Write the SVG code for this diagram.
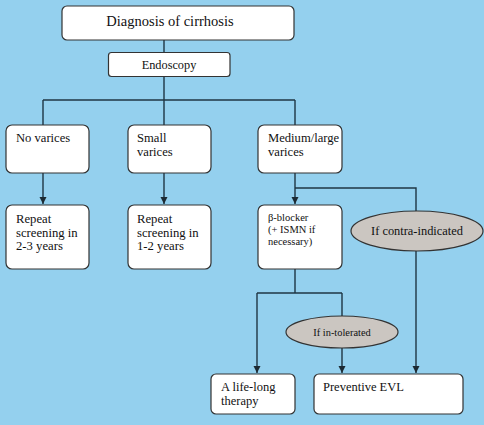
<svg xmlns="http://www.w3.org/2000/svg" width="484" height="425" viewBox="0 0 484 425">
<defs>
<marker id="arr" markerWidth="8" markerHeight="8" refX="7" refY="4" orient="auto" markerUnits="userSpaceOnUse">
<path d="M0,0.5 L7,4 L0,7.5 Z" fill="#1c2a33"/>
</marker>
<style>
.box{fill:#ffffff;stroke:#333333;stroke-width:1.2}
.ell{fill:#cbc6c1;stroke:#333333;stroke-width:1.2}
.ln{fill:none;stroke:#1f3644;stroke-width:1.4}
text{font-family:'Liberation Serif','DejaVu Serif',serif;fill:#111111}
</style>
</defs>
<rect width="484" height="425" fill="#94d0ee"/>
<g id="connectors">
<path class="ln" d="M164,40 V52"/>
<path class="ln" d="M164,76 V100 M43,100 H295 M43,100 V125 M164,100 V125 M295,100 V125"/>
<path class="ln" d="M43,173 V204" marker-end="url(#arr)"/>
<path class="ln" d="M164,173 V204" marker-end="url(#arr)"/>
<path class="ln" d="M295,173 V204" marker-end="url(#arr)"/>
<path class="ln" d="M295,188 H416 V211"/>
<path class="ln" d="M416,251 V373" marker-end="url(#arr)"/>
<path class="ln" d="M295,269 V293 M257,293 H342 M342,293 V316"/>
<path class="ln" d="M257,293 V373" marker-end="url(#arr)"/>
<path class="ln" d="M342,348 V373" marker-end="url(#arr)"/>
</g>
<g font-family="Liberation Serif, serif">
<g id="diagnosis">
<rect class="box" x="62" y="6" width="232" height="34" rx="5"/>
<text x="170" y="26" font-size="14.5" text-anchor="middle">Diagnosis of cirrhosis</text>
</g>
<g id="endoscopy">
<rect class="box" x="108.5" y="52.5" width="121.5" height="24" rx="3"/>
<text x="169" y="69" font-size="12.3" text-anchor="middle">Endoscopy</text>
</g>
<g id="no-varices">
<rect class="box" x="6" y="125" width="83" height="48" rx="6"/>
<text x="16" y="142" font-size="12.6">No varices</text>
</g>
<g id="small-varices">
<rect class="box" x="128" y="125" width="83" height="48" rx="6"/>
<text x="137" y="142" font-size="12.6">Small</text>
<text x="137" y="156" font-size="12.6">varices</text>
</g>
<g id="medium-large-varices">
<rect class="box" x="258" y="125" width="84" height="48" rx="6"/>
<text x="268" y="142" font-size="12.6">Medium/large</text>
<text x="268" y="156" font-size="12.6">varices</text>
</g>
<g id="repeat-2-3">
<rect class="box" x="6" y="205" width="83" height="64" rx="6"/>
<text x="16" y="223" font-size="12.7">Repeat</text>
<text x="16" y="236.5" font-size="12.7">screening in</text>
<text x="16" y="250" font-size="12.7">2-3 years</text>
</g>
<g id="repeat-1-2">
<rect class="box" x="128" y="205" width="83" height="64" rx="6"/>
<text x="137" y="223" font-size="12.7">Repeat</text>
<text x="137" y="236.5" font-size="12.7">screening in</text>
<text x="137" y="250" font-size="12.7">1-2 years</text>
</g>
<g id="beta-blocker">
<rect class="box" x="258" y="205" width="84" height="64" rx="6"/>
<text x="268" y="221" font-size="10.5">β-blocker</text>
<text x="268" y="233" font-size="10.5">(+ ISMN if</text>
<text x="268" y="245" font-size="10.5">necessary)</text>
</g>
<g id="contra-indicated">
<ellipse class="ell" cx="417" cy="231" rx="66" ry="20"/>
<text x="417" y="235" font-size="12.4" text-anchor="middle">If contra-indicated</text>
</g>
<g id="in-tolerated">
<ellipse class="ell" cx="342" cy="332" rx="56" ry="16"/>
<text x="342" y="335.5" font-size="10.4" text-anchor="middle">If in-tolerated</text>
</g>
<g id="life-long">
<rect class="box" x="211" y="374" width="84" height="40" rx="5"/>
<text x="221" y="391" font-size="12.5">A life-long</text>
<text x="221" y="404.5" font-size="12.5">therapy</text>
</g>
<g id="preventive-evl">
<rect class="box" x="314" y="374" width="149" height="40" rx="5"/>
<text x="323" y="391" font-size="12.5">Preventive EVL</text>
</g>
</g>
</svg>
